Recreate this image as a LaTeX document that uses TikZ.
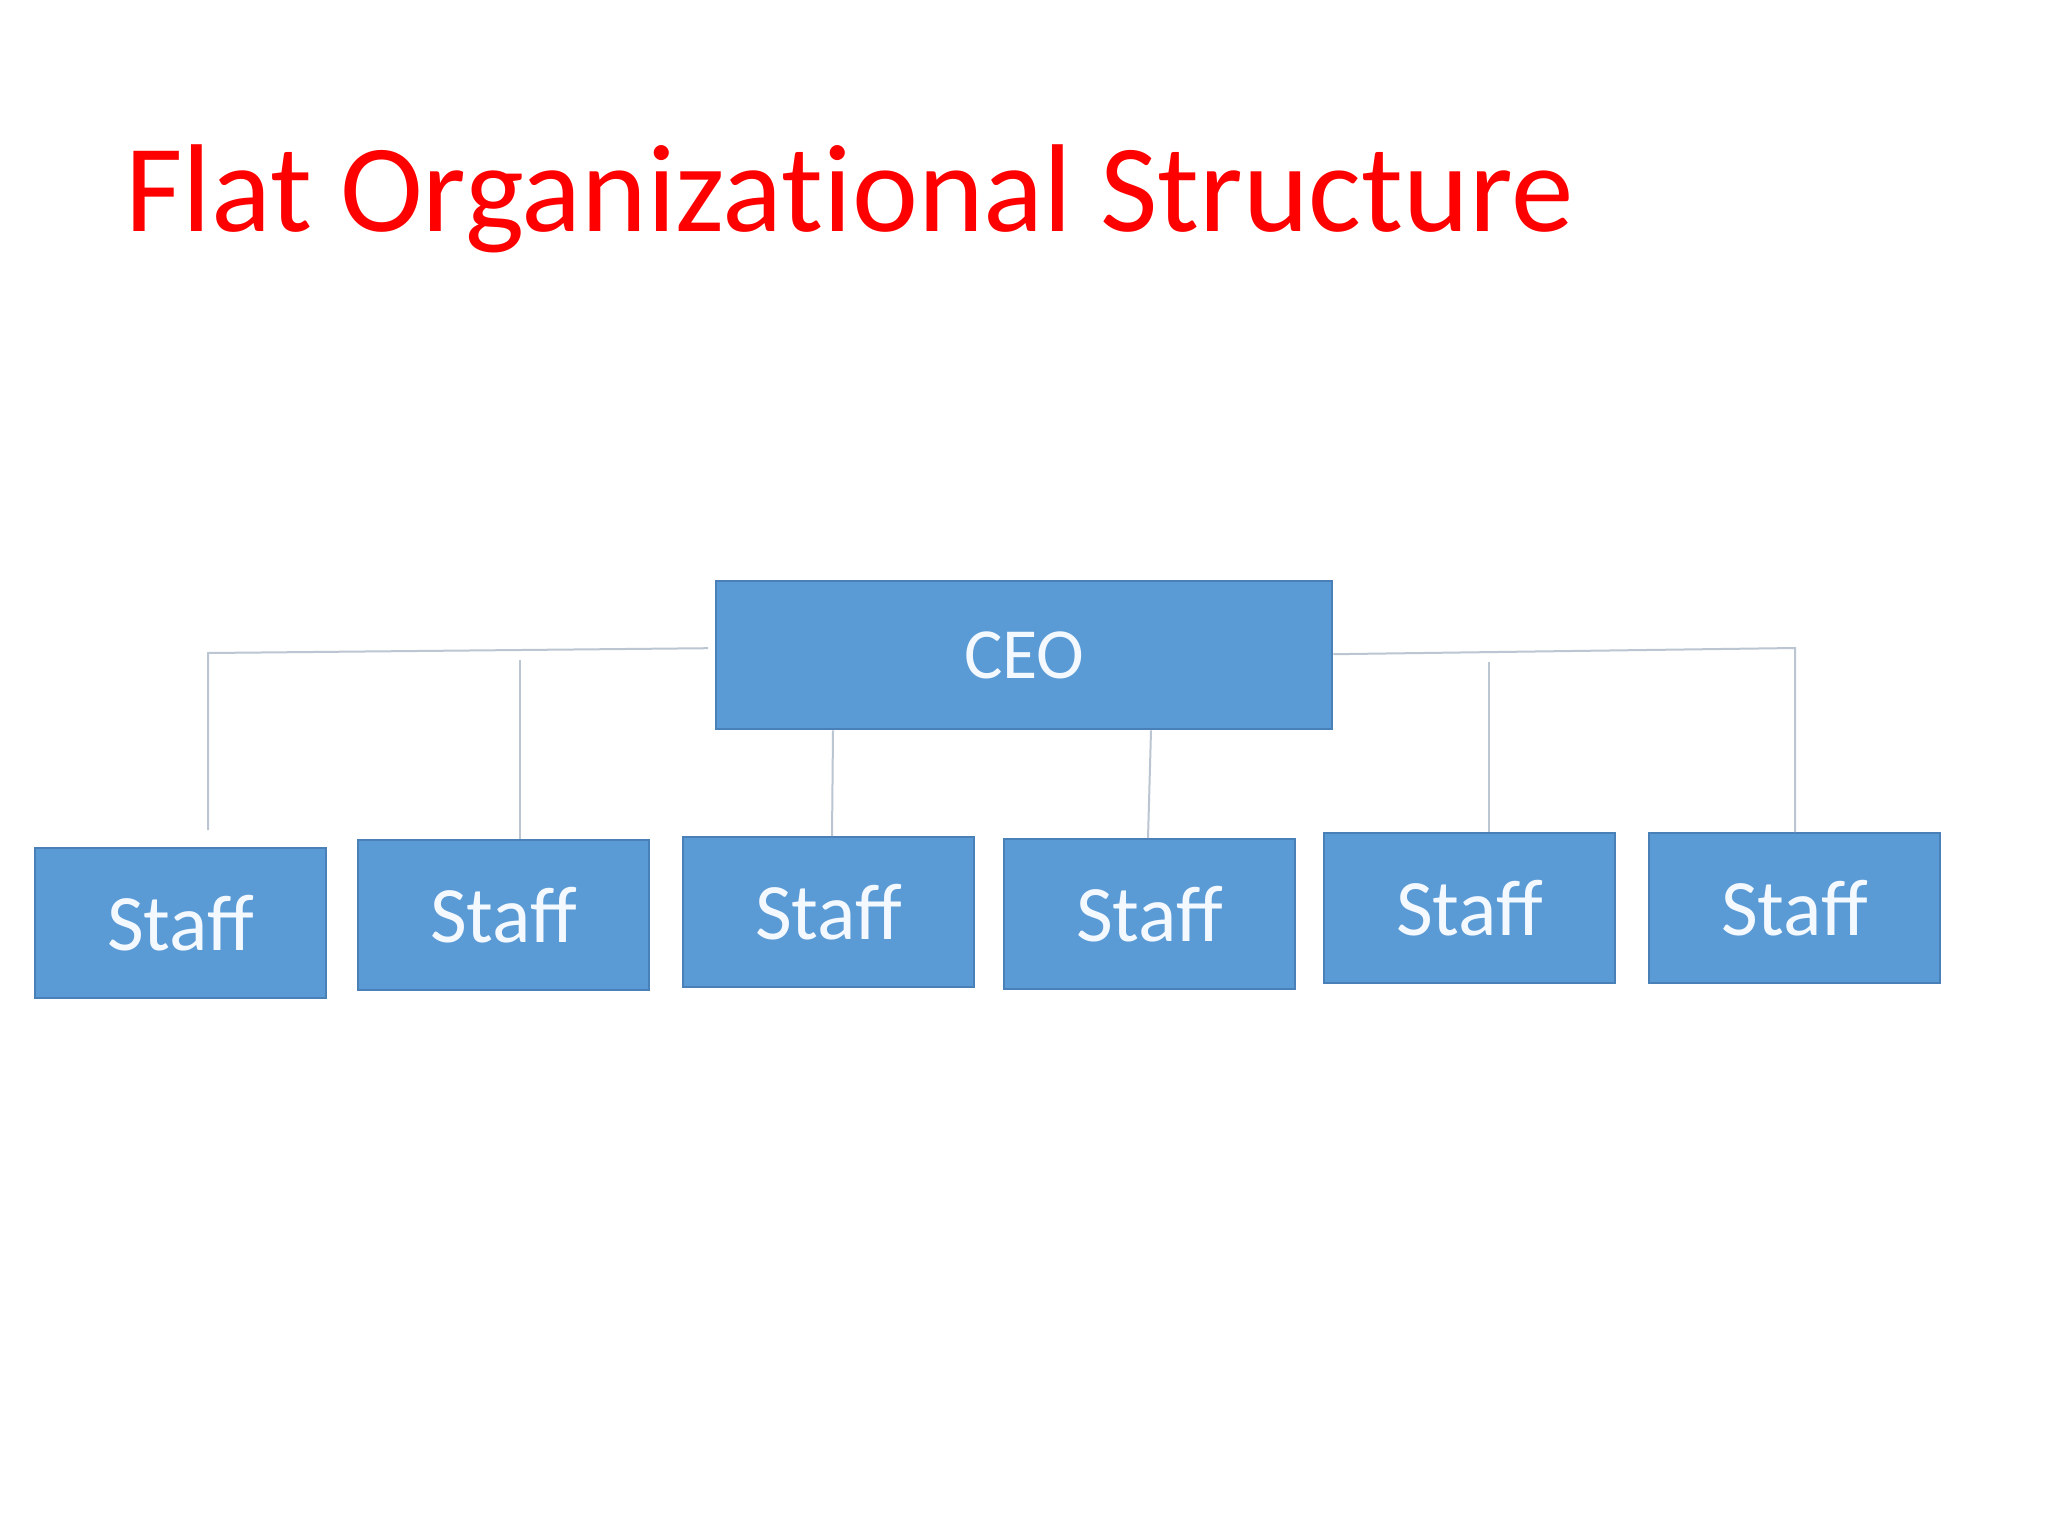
\documentclass[tikz,border=0pt]{standalone}
\usepackage{fontspec}
\setmainfont{Carlito}
\newfontfamily\titlefont[Ligatures=NoCommon]{Carlito}
\definecolor{boxblue}{HTML}{5B9BD5}
\definecolor{boxedge}{HTML}{4A80B8}
\definecolor{linegray}{HTML}{BCC5D2}
\definecolor{titlered}{HTML}{FF0000}
\definecolor{boxtext}{HTML}{F4F9FF}
\tikzset{
  orgbox/.style={draw=boxedge, line width=1.2pt, fill=boxblue, text=boxtext, inner sep=0pt, anchor=north west},
  staffbox/.style={orgbox, minimum width=145.5pt, minimum height=75pt, font=\fontsize{40}{40}\selectfont},
  conn/.style={draw=linegray, line width=1pt},
}
\begin{document}
\begin{tikzpicture}[x=0.5pt,y=-0.5pt]
\useasboundingbox (0,0) rectangle (2048,1536);
\fill[white] (0,0) rectangle (2048,1536);
\node[anchor=base west, inner sep=0pt, text=titlered, font=\titlefont\fontsize{62.5}{62.5}\selectfont] (title) at (125,231) {Flat Organizational Structure};
\node[orgbox, minimum width=308pt, minimum height=74pt, font=\fontsize{36}{36}\selectfont] (ceo) at (715,580) {CEO};
\node[staffbox] (s1) at (34,847) {Staff};
\node[staffbox] (s2) at (357,839) {Staff};
\node[staffbox] (s3) at (682,836) {Staff};
\node[staffbox] (s4) at (1003,838) {Staff};
\node[staffbox] (s5) at (1323,832) {Staff};
\node[staffbox] (s6) at (1648,832) {Staff};
\coordinate (lcorner) at (208,653);
\coordinate (s1end) at (208,830);
\coordinate (s2start) at (520,660);
\coordinate (rcorner) at (1795,648);
\coordinate (s5start) at (1489,662);
\draw[conn] ([shift={(-7,-7)}]ceo.west) -- (lcorner) -- (s1end);
\draw[conn] (s2start) -- (s2.north -| s2start);
\draw[conn] (ceo.south -| 833,0) -- (s3.north -| 832,0);
\draw[conn] (ceo.south -| 1151,0) -- (s4.north -| 1148,0);
\draw[conn] ([yshift=0.5pt]ceo.east) -- (rcorner) -- (s6.north -| rcorner);
\draw[conn] (s5start) -- (s5.north -| s5start);
\end{tikzpicture}
\end{document}
